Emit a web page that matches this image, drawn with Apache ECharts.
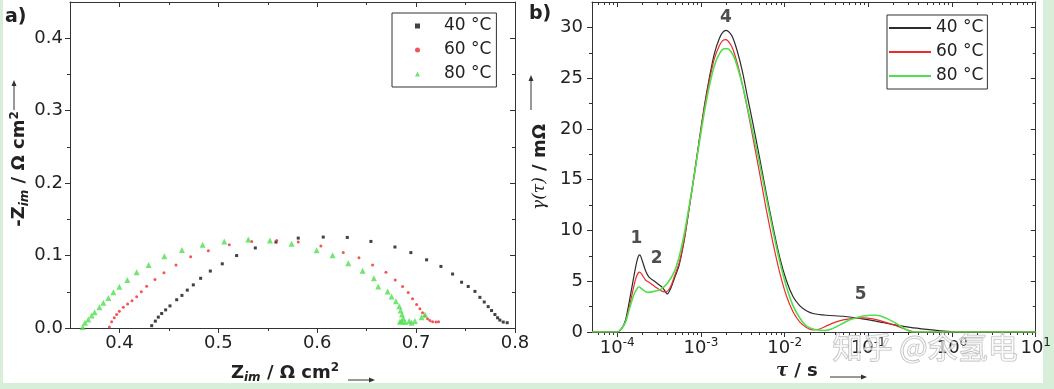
<!DOCTYPE html>
<html><head><meta charset="utf-8">
<script src="https://cdn.jsdelivr.net/npm/echarts@6/dist/echarts.min.js"></script>
<style>
html,body{margin:0;padding:0;background:#d7efd8;width:1054px;height:389px;overflow:hidden;}
#bg{position:absolute;left:3px;top:0;width:1040px;height:383px;background:#fff;}
#c{position:absolute;left:0;top:0;width:1054px;height:389px;}
</style>
</head><body><div id="bg"></div><div id="c"></div>
<script>
// ---------- Panel a: Nyquist data [Z_re, -Z_im] ----------
const nyq40 = [[0.4326,0.0032],[0.4363,0.0095],[0.4393,0.015],[0.4427,0.020],[0.4467,0.025],[0.4511,0.0305],[0.4579,0.039],[0.4632,0.045],[0.4686,0.0523],[0.4747,0.0595],[0.4821,0.0686],[0.4919,0.0786],[0.504,0.0886],[0.5185,0.100],[0.5374,0.1105],[0.5583,0.1186],[0.5808,0.1241],[0.6061,0.1255],[0.6304,0.125],[0.6543,0.1195],[0.6786,0.1118],[0.6947,0.1041],[0.7106,0.0941],[0.7251,0.085],[0.7369,0.0745],[0.746,0.0632],[0.7527,0.0573],[0.7595,0.0505],[0.7645,0.0423],[0.7689,0.0359],[0.7729,0.0295],[0.7763,0.0241],[0.7797,0.0186],[0.7824,0.0141],[0.7847,0.0109],[0.7881,0.0082],[0.7921,0.0073]];
const nyq60 = [[0.3898,0.0014],[0.3921,0.0086],[0.3948,0.0141],[0.3972,0.0186],[0.3999,0.0232],[0.4039,0.0286],[0.4083,0.0332],[0.4127,0.0377],[0.4174,0.0432],[0.4221,0.05],[0.4275,0.0577],[0.4359,0.0668],[0.445,0.0764],[0.4572,0.0868],[0.472,0.0982],[0.4899,0.1068],[0.5111,0.115],[0.5337,0.1195],[0.559,0.1209],[0.5808,0.1186],[0.6037,0.1132],[0.6263,0.1041],[0.6422,0.0968],[0.656,0.0868],[0.6695,0.0768],[0.6789,0.0664],[0.6863,0.0573],[0.692,0.0491],[0.6964,0.0405],[0.7005,0.0323],[0.7038,0.0264],[0.7065,0.0209],[0.7089,0.0164],[0.7116,0.0127],[0.714,0.0105],[0.7167,0.0086],[0.7201,0.0082],[0.7227,0.0086]];
const nyq80 = [[0.3628,0.0014],[0.3652,0.0073],[0.3685,0.0118],[0.3719,0.0173],[0.3749,0.0218],[0.3797,0.0286],[0.3837,0.035],[0.3888,0.0414],[0.3938,0.0495],[0.3999,0.0568],[0.408,0.0664],[0.4174,0.0768],[0.4295,0.0868],[0.4454,0.0991],[0.4632,0.1077],[0.4841,0.115],[0.506,0.1195],[0.5303,0.1223],[0.5522,0.1209],[0.5741,0.1164],[0.5994,0.1073],[0.6155,0.1005],[0.6314,0.0895],[0.6459,0.0791],[0.6573,0.0686],[0.6617,0.0573],[0.6712,0.0505],[0.6752,0.0436],[0.6796,0.0368],[0.683,0.03],[0.6843,0.0241],[0.6857,0.0186],[0.687,0.0132],[0.6853,0.0095],[0.6836,0.0086],[0.6887,0.0082],[0.693,0.0095],[0.6954,0.0073],[0.6988,0.0095],[0.7055,0.015],[0.7089,0.0186]];
const aXTicks = [0.4, 0.5, 0.6, 0.7, 0.8];
const aXMinor = [0.45, 0.55, 0.65, 0.75];
const aYTicks = [0.0, 0.1, 0.2, 0.3, 0.4];
const aYMinor = [0.05, 0.15, 0.25, 0.35];

// ---------- Panel b: DRT data [log10(tau/s), gamma / mOhm] ----------
const drt40 = [[-4.301,0],[-4.0,0],[-3.95,0.3],[-3.90,1.2],[-3.86,2.8],[-3.82,4.6],[-3.78,6.4],[-3.75,7.4],[-3.73,7.6],[-3.70,7.0],[-3.66,6.0],[-3.62,5.4],[-3.54,4.9],[-3.46,4.4],[-3.40,3.75],[-3.36,4.3],[-3.32,5.2],[-3.26,6.6],[-3.20,9.0],[-3.14,12.2],[-3.08,15.5],[-3.02,18.9],[-2.96,22.2],[-2.90,25.0],[-2.84,27.4],[-2.78,28.9],[-2.74,29.5],[-2.70,29.7],[-2.66,29.5],[-2.62,29.0],[-2.56,27.5],[-2.50,25.5],[-2.44,23.0],[-2.38,20.6],[-2.30,17.2],[-2.22,13.7],[-2.14,10.4],[-2.06,7.4],[-1.98,5.1],[-1.90,3.5],[-1.82,2.6],[-1.74,2.1],[-1.65,1.8],[-1.50,1.65],[-1.30,1.55],[-1.10,1.35],[-0.90,1.05],[-0.70,0.72],[-0.50,0.45],[-0.30,0.25],[-0.10,0.08],[0.05,0],[1,0]];
const drt60 = [[-4.301,0],[-4.0,0],[-3.95,0.3],[-3.90,1.0],[-3.86,2.3],[-3.82,3.8],[-3.78,5.2],[-3.75,5.8],[-3.73,5.9],[-3.70,5.6],[-3.66,5.1],[-3.62,4.9],[-3.52,4.3],[-3.44,3.95],[-3.40,4.0],[-3.36,4.5],[-3.32,5.4],[-3.26,6.8],[-3.20,9.1],[-3.14,12.2],[-3.08,15.4],[-3.02,18.8],[-2.96,22.0],[-2.90,24.7],[-2.84,26.9],[-2.78,28.2],[-2.74,28.7],[-2.70,28.8],[-2.66,28.5],[-2.62,27.9],[-2.56,26.3],[-2.50,24.2],[-2.44,21.8],[-2.38,19.2],[-2.30,15.7],[-2.22,12.1],[-2.14,8.8],[-2.06,5.9],[-1.98,3.6],[-1.90,2.0],[-1.82,1.0],[-1.74,0.45],[-1.66,0.2],[-1.58,0.3],[-1.50,0.6],[-1.40,0.95],[-1.30,1.2],[-1.18,1.35],[-1.06,1.4],[-0.95,1.3],[-0.85,1.1],[-0.75,0.85],[-0.65,0.55],[-0.55,0.25],[-0.45,0],[1,0]];
const drt80 = [[-4.301,0],[-4.0,0],[-3.95,0.3],[-3.90,1.0],[-3.85,2.4],[-3.80,3.7],[-3.76,4.3],[-3.74,4.45],[-3.70,4.2],[-3.64,3.9],[-3.56,4.0],[-3.48,4.2],[-3.40,4.8],[-3.32,5.9],[-3.26,7.4],[-3.20,9.6],[-3.14,12.4],[-3.08,15.4],[-3.02,18.6],[-2.96,21.6],[-2.90,24.2],[-2.84,26.2],[-2.78,27.4],[-2.72,27.9],[-2.68,27.9],[-2.64,27.6],[-2.60,27.0],[-2.56,26.0],[-2.50,24.2],[-2.44,22.0],[-2.38,19.7],[-2.30,16.6],[-2.22,13.3],[-2.14,10.0],[-2.06,7.0],[-1.98,4.5],[-1.90,2.6],[-1.82,1.4],[-1.74,0.6],[-1.64,0.25],[-1.52,0.15],[-1.44,0.3],[-1.34,0.7],[-1.22,1.2],[-1.10,1.5],[-0.98,1.65],[-0.90,1.65],[-0.80,1.4],[-0.70,1.0],[-0.62,0.6],[-0.55,0.25],[-0.48,0],[1,0]];
const peakNames = ['1', '2', '4', '5'];
const peakPos = [[-3.77, 9.2], [-3.53, 7.25], [-2.70, 30.95], [-1.09, 3.65]];
const bXTicks = [-4, -3, -2, -1, 0, 1];            // decades (log10 tau)
const bMinorMantissa = [2, 3, 4, 5, 6, 7, 8, 9];
const bMinorDecades = [-5, -4, -3, -2, -1, 0];
const bYTicks = [0, 5, 10, 15, 20, 25, 30];
const bYMinor = [2.5, 7.5, 12.5, 17.5, 22.5, 27.5];

const F = 'DejaVu Sans';
const AX = '#333';
const TXT = '#222';
const C40 = '#2b2b2b', C60 = '#ee2b2b', C80 = '#4fdf4f';

const bXMin = Math.log10(5e-5), bXMax = 1;
const bXMinor = [];
bMinorDecades.forEach(d => bMinorMantissa.forEach(m => {
  const v = d + Math.log10(m);
  if (v > bXMin + 1e-6 && v < bXMax - 1e-6) bXMinor.push(v);
}));

function axisSet(dim, g, min, max, major, minor, label, nameCfg) {
  const pos = dim === 'x' ? ['bottom', 'top'] : ['left', 'right'];
  const base = { type: 'value', gridIndex: g, min: min, max: max, splitLine: { show: false } };
  const line = { show: true, onZero: false, lineStyle: { color: AX, width: 1 } };
  const noLine = { show: false, onZero: false };
  const tick = (vals, len, inside) => ({ show: true, inside: inside, length: len, customValues: vals, lineStyle: { color: AX, width: 1 } });
  const main = Object.assign({}, base, { position: pos[0], axisLine: line, axisTick: tick(major, 5, false), axisLabel: label }, nameCfg || {});
  return [
    main,
    Object.assign({}, base, { position: pos[0], axisLine: noLine, axisTick: tick(minor, 3, false), axisLabel: { show: false } }),
    Object.assign({}, base, { position: pos[1], axisLine: line, axisTick: tick(major, 5, true), axisLabel: { show: false } }),
    Object.assign({}, base, { position: pos[1], axisLine: noLine, axisTick: tick(minor, 3, true), axisLabel: { show: false } })
  ];
}

const labFont = { fontFamily: F, fontSize: 18, color: TXT };
const nameRich = {
  b: { fontFamily: F, fontSize: 18, fontWeight: 'bold', color: TXT, lineHeight: 22 },
  sub: { fontFamily: F, fontSize: 12, fontWeight: 'bold', fontStyle: 'italic', color: TXT, verticalAlign: 'bottom', lineHeight: 12 },
  sup: { fontFamily: F, fontSize: 12, fontWeight: 'bold', color: TXT, verticalAlign: 'top', lineHeight: 12 },
  i: { fontFamily: 'DejaVu Serif', fontSize: 17, fontStyle: 'italic', color: TXT, lineHeight: 22 },
  bi: { fontFamily: 'DejaVu Serif', fontSize: 18, fontStyle: 'italic', fontWeight: 'bold', color: TXT, lineHeight: 22 }
};

const xA = axisSet('x', 0, 0.35, 0.8, aXTicks, aXMinor,
  Object.assign({ customValues: aXTicks, margin: 6, formatter: v => v.toFixed(1) }, labFont),
  { name: '{b|Z}{sub|im}{b| / Ω cm}{sup|2}', nameLocation: 'middle', nameGap: 34,
    nameTextStyle: { rich: nameRich, padding: [0, 15, 0, 0] } });
const yA = axisSet('y', 0, 0, 0.45, aYTicks, aYMinor,
  Object.assign({ customValues: aYTicks, margin: 7, formatter: v => v.toFixed(1) }, labFont),
  { name: '{b|-Z}{sub|im}{b| / Ω cm}{sup|2}', nameLocation: 'middle', nameGap: 34,
    nameTextStyle: { rich: nameRich, padding: [0, 8, 0, 0] } });
const xB = axisSet('x', 1, bXMin, bXMax, bXTicks, bXMinor,
  { customValues: bXTicks, margin: 5, formatter: v => '{b|10}{s|' + v + '}',
    rich: { b: { fontFamily: F, fontSize: 18, color: TXT, lineHeight: 22 },
            s: { fontFamily: F, fontSize: 12, color: TXT, verticalAlign: 'top', lineHeight: 12 } } },
  { name: '{bi|τ}{b| / s}', nameLocation: 'middle', nameGap: 27,
    nameTextStyle: { rich: nameRich, padding: [0, 34, 0, 0] } });
const yB = axisSet('y', 1, 0, 32.5, bYTicks, bYMinor,
  Object.assign({ customValues: bYTicks, margin: 9, formatter: v => String(v) }, labFont),
  { name: '{i|γ(τ)}{b| / mΩ}', nameLocation: 'middle', nameGap: 41,
    nameTextStyle: { rich: nameRich } });

function arrow(x1, y1, x2, y2) {
  const dx = x2 - x1, dy = y2 - y1, L = Math.hypot(dx, dy), ux = dx / L, uy = dy / L;
  const hl = 6, hw = 2.5;
  const bx = x2 - ux * hl, by = y2 - uy * hl;
  return [
    { type: 'line', shape: { x1: x1, y1: y1, x2: bx, y2: by }, style: { stroke: '#333', lineWidth: 1 } },
    { type: 'polygon', shape: { points: [[x2, y2], [bx - uy * hw, by + ux * hw], [bx + uy * hw, by - ux * hw]] }, style: { fill: '#333' } }
  ];
}

const legendText = { fontFamily: F, fontSize: 17, color: TXT, lineHeight: 20 };
const nameMap = { a40: '40 °C', a60: '60 °C', a80: '80 °C', b40: '40 °C', b60: '60 °C', b80: '80 °C' };

const lineSeries = (name, data, color, width) => ({
  name: name, type: 'line', xAxisIndex: 4, yAxisIndex: 4, symbol: 'none', showSymbol: false,
  smooth: 0.25, lineStyle: { color: color, width: width }, itemStyle: { color: color }, data: data
});

const option = {
  animation: false,
  backgroundColor: 'transparent',
  grid: [
    { left: 70, width: 445, top: 2, height: 330 },
    { left: 592, width: 444, top: 2, height: 330 }
  ],
  xAxis: xA.concat(xB),
  yAxis: yA.concat(yB),
  legend: [
    { left: 392, top: 13, orient: 'vertical', padding: [3, 5, 3, 23], itemGap: 4, itemWidth: 5, itemHeight: 5,
      borderColor: '#333', borderWidth: 1, borderRadius: 0, backgroundColor: '#fff', selectedMode: false,
      data: [{ name: 'a40', icon: 'rect' }, { name: 'a60', icon: 'circle' }, { name: 'a80', icon: 'triangle' }],
      formatter: n => nameMap[n], textStyle: Object.assign({ padding: [0, 0, 0, 19] }, legendText) },
    { left: 887, top: 15, orient: 'vertical', padding: [3, 4, 3, 2], itemGap: 4, itemWidth: 42, itemHeight: 2,
      borderColor: '#333', borderWidth: 1, borderRadius: 0, backgroundColor: '#fff', selectedMode: false,
      data: [{ name: 'b40', icon: 'rect' }, { name: 'b60', icon: 'rect' }, { name: 'b80', icon: 'rect' }],
      formatter: n => nameMap[n], textStyle: legendText }
  ],
  series: [
    { name: 'a40', type: 'scatter', xAxisIndex: 0, yAxisIndex: 0, symbol: 'rect', symbolSize: 3, itemStyle: { color: '#111' }, data: nyq40 },
    { name: 'a60', type: 'scatter', xAxisIndex: 0, yAxisIndex: 0, symbol: 'circle', symbolSize: 3, itemStyle: { color: C60 }, data: nyq60 },
    { name: 'a80', type: 'scatter', xAxisIndex: 0, yAxisIndex: 0, symbol: 'triangle', symbolSize: 6, itemStyle: { color: C80 }, data: nyq80 },
    lineSeries('b40', drt40, C40, 1.2),
    lineSeries('b60', drt60, C60, 1.2),
    lineSeries('b80', drt80, C80, 1.6),
    { name: 'peaks', type: 'scatter', xAxisIndex: 4, yAxisIndex: 4, symbolSize: 0, silent: true,
      data: peakPos.map((p, i) => ({ value: p, label: { formatter: peakNames[i] } })),
      label: { show: true, position: 'inside', fontFamily: F, fontSize: 17, fontWeight: 'bold', color: TXT } }
  ],
  graphic: [
    { type: 'text', left: 5, top: 8, style: { text: 'a)', font: 'bold 19px "DejaVu Sans"', fill: TXT } },
    { type: 'text', left: 529, top: 5, style: { text: 'b)', font: 'bold 19px "DejaVu Sans"', fill: TXT } },
    { type: 'text', left: 832, top: 331, z: 100, style: { text: '知乎 @氽氢电', font: '30px "Noto Sans CJK SC"',
      fill: 'rgba(255,255,255,0.65)', stroke: 'rgba(140,140,140,0.6)', lineWidth: 1.2 } }
  ].concat(arrow(348, 380, 375, 380), arrow(14, 110, 14, 80), arrow(830, 377, 867, 377), arrow(531, 110, 531, 75))
};

const chart = echarts.init(document.getElementById('c'), null, { renderer: 'canvas' });
chart.setOption(option);
</script></body></html>
